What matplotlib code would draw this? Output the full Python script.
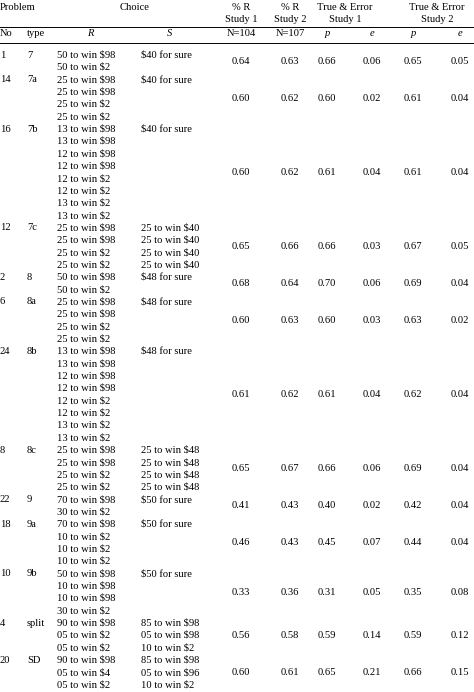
import matplotlib
matplotlib.use("Agg")
import matplotlib.pyplot as plt

problems = ["1", "14", "16", "12", "2", "6", "24", "8", "22", "18", "10", "4", "20"]
types = ["7", "7a", "7b", "7c", "8", "8a", "8b", "8c", "9", "9a", "9b", "split", "SD"]
R_opts = [
    ["50 to win $98", "50 to win $2"],
    ["25 to win $98", "25 to win $98", "25 to win $2", "25 to win $2"],
    ["13 to win $98", "13 to win $98", "12 to win $98", "12 to win $98",
     "12 to win $2", "12 to win $2", "13 to win $2", "13 to win $2"],
    ["25 to win $98", "25 to win $98", "25 to win $2", "25 to win $2"],
    ["50 to win $98", "50 to win $2"],
    ["25 to win $98", "25 to win $98", "25 to win $2", "25 to win $2"],
    ["13 to win $98", "13 to win $98", "12 to win $98", "12 to win $98",
     "12 to win $2", "12 to win $2", "13 to win $2", "13 to win $2"],
    ["25 to win $98", "25 to win $98", "25 to win $2", "25 to win $2"],
    ["70 to win $98", "30 to win $2"],
    ["70 to win $98", "10 to win $2", "10 to win $2", "10 to win $2"],
    ["50 to win $98", "10 to win $98", "10 to win $98", "30 to win $2"],
    ["90 to win $98", "05 to win $2", "05 to win $2"],
    ["90 to win $98", "05 to win $4", "05 to win $2"],
]
S_opts = [
    ["$40 for sure"], ["$40 for sure"], ["$40 for sure"],
    ["25 to win $40"] * 4,
    ["$48 for sure"], ["$48 for sure"], ["$48 for sure"],
    ["25 to win $48"] * 4,
    ["$50 for sure"], ["$50 for sure"], ["$50 for sure"],
    ["85 to win $98", "05 to win $98", "10 to win $2"],
    ["85 to win $98", "05 to win $96", "10 to win $2"],
]
pR1 = ["0.64", "0.60", "0.60", "0.65", "0.68", "0.60", "0.61", "0.65", "0.41", "0.46", "0.33", "0.56", "0.60"]
pR2 = ["0.63", "0.62", "0.62", "0.66", "0.64", "0.63", "0.62", "0.67", "0.43", "0.43", "0.36", "0.58", "0.61"]
p1 = ["0.66", "0.60", "0.61", "0.66", "0.70", "0.60", "0.61", "0.66", "0.40", "0.45", "0.31", "0.59", "0.65"]
e1 = ["0.06", "0.02", "0.04", "0.03", "0.06", "0.03", "0.04", "0.06", "0.02", "0.07", "0.05", "0.14", "0.21"]
p2 = ["0.65", "0.61", "0.61", "0.67", "0.69", "0.63", "0.62", "0.69", "0.42", "0.44", "0.35", "0.59", "0.66"]
e2 = ["0.05", "0.04", "0.04", "0.05", "0.04", "0.02", "0.04", "0.04", "0.04", "0.04", "0.08", "0.12", "0.15"]

plt.rcParams['font.family'] = ['Liberation Serif', 'DejaVu Serif']
fs = 7.6
fig = plt.figure(figsize=(4.74, 6.92), dpi=100)
ax = fig.add_axes([0, 0, 1, 1])
ax.set_xlim(0, 474)
ax.set_ylim(692, 0)
ax.axis('off')

def t(x, y, s, ha='left', style='normal'):
    ax.text(x, y, s, ha=ha, va='center', fontsize=fs, style=style)

# header
t(0, 7, "Problem")
t(135, 7, "Choice", ha='center')
t(241, 7, "% R", ha='center'); t(241, 19.5, "Study 1", ha='center')
t(290, 7, "% R", ha='center'); t(290, 19.5, "Study 2", ha='center')
t(345, 7, "True & Error", ha='center'); t(345, 19.5, "Study 1", ha='center')
t(437, 7, "True & Error", ha='center'); t(437, 19.5, "Study 2", ha='center')
t(0, 33, "No"); t(27, 33, "type")
t(90, 33, "R", ha='center', style='italic')
t(170, 33, "S", ha='center', style='italic')
t(241, 33, "N=104", ha='center'); t(290, 33, "N=107", ha='center')
t(327, 33, "p", ha='center', style='italic'); t(372, 33, "e", ha='center', style='italic')
t(413, 33, "p", ha='center', style='italic'); t(460, 33, "e", ha='center', style='italic')
ax.plot([0, 474], [26.5, 26.5], color='black', lw=0.7)
ax.plot([0, 474], [42.5, 42.5], color='black', lw=0.7)

y0 = 55.0
dy = 12.35
line = 0
for i in range(len(problems)):
    n = len(R_opts[i])
    ys = y0 + line * dy
    t(0, ys, problems[i]); t(27, ys, types[i])
    for k, s in enumerate(R_opts[i]):
        t(57, ys + k * dy, s)
    for k, s in enumerate(S_opts[i]):
        t(141, ys + k * dy, s)
    yc = ys + (n - 1) * dy / 2
    for x, v in zip([241, 290, 327, 372, 413, 460], [pR1, pR2, p1, e1, p2, e2]):
        t(x, yc, v[i], ha='center')
    line += n

fig.savefig("out.png", dpi=100)
